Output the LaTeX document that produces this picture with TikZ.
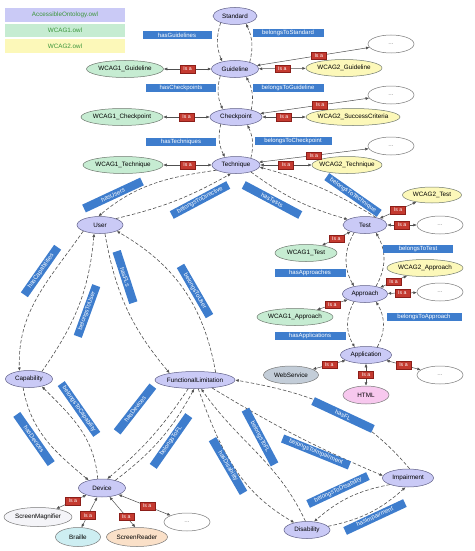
\documentclass[tikz,border=0pt]{standalone}
\usepackage{fontspec}
\setmainfont{Liberation Sans}
\usepackage{xcolor}
\usepackage{tikz}
\usetikzlibrary{arrows.meta,shapes.geometric}
\definecolor{lav}{RGB}{202,202,246}
\definecolor{lavline}{RGB}{95,95,135}
\definecolor{wonefill}{RGB}{198,236,210}
\definecolor{wtwofill}{RGB}{252,248,185}
\definecolor{wcline}{RGB}{110,120,110}
\definecolor{dotline}{RGB}{120,120,120}
\definecolor{relblue}{RGB}{62,125,205}
\definecolor{isared}{RGB}{196,58,48}
\definecolor{isadark}{RGB}{140,30,25}
\definecolor{edgegrey}{RGB}{80,80,80}
\definecolor{legtxt}{RGB}{60,150,60}
\definecolor{wsgrey}{RGB}{195,205,216}
\definecolor{htmlpink}{RGB}{247,200,238}
\definecolor{brcyan}{RGB}{205,238,242}
\definecolor{srpeach}{RGB}{250,224,200}
\definecolor{smwhite}{RGB}{244,244,248}
\newcommand{\nfont}{\fontsize{6.3}{7.5}\selectfont}
\newcommand{\lfont}{\fontsize{6}{7}\selectfont}
\newcommand{\ifont}{\fontsize{5.2}{6}\selectfont}

\begin{document}
\begin{tikzpicture}[x=1pt,y=1pt,
  cls/.style={ellipse,draw=lavline,line width=0.5pt,fill=lav,minimum height=17pt,inner xsep=-4pt,inner ysep=0.5pt,font=\nfont},
  wone/.style={cls,fill=wonefill,draw=wcline},
  wtwo/.style={cls,fill=wtwofill,draw=wcline},
  dotcls/.style={cls,fill=white,draw=dotline,minimum width=46pt,minimum height=18pt,text=gray},
  rel/.style={draw=edgegrey,line width=0.6pt,dash pattern=on 3.5pt off 2pt,-{Latex[length=3.5pt,width=3pt]}},
  isa/.style={draw=edgegrey,line width=0.5pt,{Latex[length=3.5pt,width=3pt]}-{Latex[length=3.5pt,width=3pt]}},
  rlab/.style={fill=relblue,text=white,font=\lfont,minimum width=64pt,minimum height=8.5pt,inner sep=0.5pt},
  isalab/.style={fill=isared,draw=isadark,line width=0.3pt,text=white,font=\ifont,minimum width=15pt,minimum height=7.5pt,inner sep=0.5pt},
  legbox/.style={minimum width=120pt,inner sep=0pt,text=legtxt,font=\nfont}
]
\useasboundingbox (0,0) rectangle (474,-551);
% legend
\node[legbox,fill=lav,minimum height=14pt] (legacc) at (65,-15) {AccessibleOntology.owl};
\node[legbox,fill=wonefill,minimum height=13pt] (legw1) at (65,-30.5) {WCAG1.owl};
\node[legbox,fill=wtwofill,minimum height=14pt] (legw2) at (65,-46) {WCAG2.owl};

% ontology classes
\node[cls,minimum width=44] (std) at (235,-16) {Standard};
\node[cls,minimum width=47] (gl) at (235,-69) {Guideline};
\node[cls,minimum width=52] (cp) at (236,-117) {Checkpoint};
\node[cls,minimum width=48] (tq) at (236,-165) {Technique};
\node[cls,minimum width=46] (user) at (100,-225) {User};
\node[cls,minimum width=44] (test) at (365,-225) {Test};
\node[cls,minimum width=45] (appr) at (365,-294) {Approach};
\node[cls,minimum width=51] (app) at (366,-355) {Application};
\node[cls,minimum width=47] (cap) at (29,-379) {Capability};
\node[cls,minimum width=80] (fl) at (195,-380) {FunctionalLimitation};
\node[cls,minimum width=47,minimum height=18] (dev) at (102,-488) {Device};
\node[cls,minimum width=51,minimum height=18] (imp) at (408,-478) {Impairment};
\node[cls,minimum width=46] (dis) at (307,-530) {Disability};

% WCAG1 and WCAG2 classes
\node[wone,minimum width=77] (w1gl) at (125,-69) {WCAG1\_Guideline};
\node[wone,minimum width=82] (w1cp) at (122,-117) {WCAG1\_Checkpoint};
\node[wone,minimum width=80] (w1tq) at (123,-165) {WCAG1\_Technique};
\node[wone,minimum width=62] (w1test) at (306,-253) {WCAG1\_Test};
\node[wone,minimum width=76] (w1appr) at (295,-317) {WCAG1\_Approach};
\node[wtwo,minimum width=76] (w2gl) at (344,-68) {WCAG2\_Guideline};
\node[wtwo,minimum width=94] (w2sc) at (353,-117) {WCAG2\_SuccessCriteria};
\node[wtwo,minimum width=70] (w2tq) at (347,-165) {WCAG2\_Technique};
\node[wtwo,minimum width=59,minimum height=16] (w2test) at (432,-195) {WCAG2\_Test};
\node[wtwo,minimum width=76] (w2appr) at (425,-268) {WCAG2\_Approach};

% open subclasses
\node[dotcls] (d1) at (391,-44) {...};
\node[dotcls] (d2) at (391,-95) {...};
\node[dotcls] (d3) at (391,-146) {...};
\node[dotcls] (d4) at (440,-225) {...};
\node[dotcls] (d5) at (440,-292) {...};
\node[dotcls] (d6) at (440,-375) {...};
\node[dotcls] (d7) at (187,-522) {...};

% instances
\node[cls,fill=wsgrey,draw=dotline,minimum width=55,minimum height=18] (ws) at (291,-375) {WebService};
\node[cls,fill=htmlpink,draw=dotline,minimum width=46,minimum height=18] (html) at (366,-395) {HTML};
\node[cls,fill=smwhite,draw=dotline,minimum width=68,minimum height=19] (sm) at (38,-517) {ScreenMagnifier};
\node[cls,fill=brcyan,draw=dotline,minimum width=45,minimum height=19] (br) at (78,-537) {Braille};
\node[cls,fill=srpeach,draw=dotline,minimum width=61,minimum height=19] (sr) at (137,-537) {ScreenReader};

% is-a links
\draw[isa] (gl) -- node[isalab] (i1) {Is a} (w1gl);
\draw[isa] (gl) -- node[isalab] (i2) {Is a} (w2gl);
\draw[isa] (gl) -- node[isalab,pos=0.55] (i3) {Is a} (d1);
\draw[isa] (cp) -- node[isalab] (i4) {Is a} (w1cp);
\draw[isa] (cp) -- node[isalab] (i5) {Is a} (w2sc);
\draw[isa] (cp) -- node[isalab,pos=0.55] (i6) {Is a} (d2);
\draw[isa] (tq) -- node[isalab] (i7) {Is a} (w1tq);
\draw[isa] (tq) -- node[isalab] (i8) {Is a} (w2tq);
\draw[isa] (tq) -- node[isalab,pos=0.5] (i9) {Is a} (d3);
\draw[isa] (test) -- node[isalab] (i10) {Is a} (w2test);
\draw[isa] (test) -- node[isalab] (i11) {Is a} (d4);
\draw[isa] (test) -- node[isalab] (i12) {Is a} (w1test);
\draw[isa] (appr) -- node[isalab] (i13) {Is a} (w2appr);
\draw[isa] (appr) -- node[isalab] (i14) {Is a} (d5);
\draw[isa] (appr) -- node[isalab] (i15) {Is a} (w1appr);
\draw[isa] (app) -- node[isalab] (i16) {Is a} (ws);
\draw[isa] (app) -- node[isalab] (i17) {Is a} (html);
\draw[isa] (app) -- node[isalab] (i18) {Is a} (d6);
\draw[isa] (dev) -- node[isalab,pos=0.45] (i19) {Is a} (sm);
\draw[isa] (dev) -- node[isalab,pos=0.6] (i20) {Is a} (br.70);
\draw[isa] (dev) -- node[isalab,pos=0.65] (i21) {Is a} (sr.100);
\draw[isa] (dev) -- node[isalab,pos=0.55] (i22) {Is a} (d7);

% relations, top chain
\draw[rel] (std.205) to[bend right=20] (gl.150);
\draw[rel] (gl.25) to[bend right=20] (std.325);
\draw[rel] (gl.205) to[bend right=20] (cp.150);
\draw[rel] (cp.25) to[bend right=20] (gl.325);
\draw[rel] (cp.205) to[bend right=20] (tq.145);
\draw[rel] (tq.25) to[bend right=20] (cp.325);
\node[rlab,minimum width=69] (lgl) at (177,-35) {hasGuidelines};
\node[rlab,minimum width=71] (lstd) at (288,-33) {belongsToStandard};
\node[rlab,minimum width=70] (lcp) at (181,-88) {hasCheckpoints};
\node[rlab,minimum width=71] (lgl2) at (288,-88) {belongsToGuideline};
\node[rlab,minimum width=70] (ltq) at (181,-142) {hasTechniques};
\node[rlab,minimum width=77] (lcp2) at (293,-141) {belongsToCheckpoint};

% technique, user, test
\draw[rel] (tq.195) to[out=188,in=40] (user.100);
\draw[rel] (user.22) to[bend right=8] (tq.240);
\draw[rel] (tq.335) to[bend right=10] (test.162);
\draw[rel] (test.35) to[bend right=8] (tq.355);
\node[rlab,rotate=25] (lusr) at (113,-195) {hasUsers};
\node[rlab,rotate=28] (ldir) at (200,-200) {belongsToDirective};
\node[rlab,rotate=-28] (ltst) at (272,-200) {hasTests};
\node[rlab,rotate=-35] (ltq2) at (353,-195) {belongsToTechnique};

% test, approach, application
\draw[rel] (test.215) to[bend right=30] (appr.145);
\draw[rel] (appr.35) to[bend right=30] (test.325);
\draw[rel] (appr.215) to[bend right=30] (app.145);
\draw[rel] (app.35) to[bend right=30] (appr.325);
\node[rlab,minimum width=70] (ltst2) at (418,-249) {belongsToTest};
\node[rlab,minimum width=71] (lappr) at (310,-273) {hasApproaches};
\node[rlab,minimum width=75] (lappr2) at (424,-317) {belongsToApproach};
\node[rlab,minimum width=71] (lapp) at (310,-336) {hasApplications};

% user, capability, functional limitation
\draw[rel] (user.200) to[out=235,in=92] (cap.140);
\draw[rel] (cap.30) to[out=55,in=265] (user.235);
\draw[rel] (user.300) to[out=-80,in=130] (fl.165);
\draw[rel] (fl.20) to[out=100,in=-30] (user.340);
\node[rlab,minimum width=58,rotate=55] (lcap) at (41,-271) {hasCapabilities};
\node[rlab,minimum width=54,rotate=70] (lusr2) at (87,-311) {belongsToUser};
\node[rlab,minimum width=54,rotate=-72] (lfl) at (125,-277) {hasFLs};
\node[rlab,minimum width=58,rotate=-60] (lusr3) at (195,-291) {belongsToUser};

% device
\draw[rel] (cap.235) to[out=-80,in=140] (dev.150);
\draw[rel] (dev.115) to[out=95,in=-45] (cap.330);
\draw[rel] (fl.232) to[bend left=8] (dev.60);
\draw[rel] (dev.30) to[bend right=12] (fl.265);
\node[rlab,minimum width=60,rotate=-55] (ldev) at (34,-439) {hasDevices};
\node[rlab,minimum width=62,rotate=-55] (lcap2) at (79,-409) {belongsToCapability};
\node[rlab,minimum width=58,rotate=52] (ldev2) at (135,-409) {hasDevices};
\node[rlab,minimum width=62,rotate=55] (lfl2) at (171,-441) {belongsToFL};

% disability, impairment
\draw[rel] (fl.290) to[out=-70,in=150] (dis.150);
\draw[rel] (dis.100) to[out=115,in=-55] (fl.305);
\draw[rel] (imp.80) to[out=130,in=-10] (fl.east);
\draw[rel] (fl.335) to[bend right=4] (imp.175);
\draw[rel] (imp.200) to[bend right=15] (dis.50);
\draw[rel] (dis.10) to[bend right=15] (imp.255);
\node[rlab,minimum width=62,rotate=-60] (ldis) at (228,-466) {hasDisability};
\node[rlab,minimum width=62,rotate=-62] (lfl3) at (260,-437) {belongsToFL};
\node[rlab,minimum width=66,rotate=-25] (lfl4) at (343,-415) {hasFL};
\node[rlab,minimum width=72,rotate=-22] (limp) at (316,-452) {belongsToImpairment};
\node[rlab,minimum width=66,rotate=25] (ldis2) at (338,-490) {belongsToDisability};
\node[rlab,minimum width=66,rotate=25] (limp2) at (375,-517) {hasImpairment};
\end{tikzpicture}
\end{document}
